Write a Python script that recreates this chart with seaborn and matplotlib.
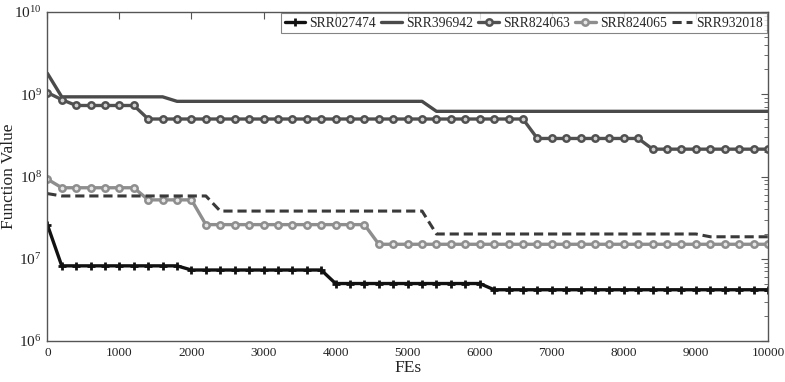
import numpy as np
import pandas as pd
import matplotlib
matplotlib.use("Agg")
import matplotlib.pyplot as plt
import seaborn as sns

# ---- data ----
fes = list(range(0, 10001, 200))
srr027474 = [2.6e7] + [8.2e6]*9 + [7.3e6]*10 + [5.0e6]*11 + [4.2e6]*20
srr396942 = [1.8e9] + [9.3e8]*8 + [8.2e8]*18 + [6.2e8]*24
srr824063 = [1.05e9, 8.6e8] + [7.3e8]*5 + [5.0e8]*27 + [2.9e8]*8 + [2.15e8]*9
srr824065 = [9.3e7] + [7.3e7]*6 + [5.2e7]*4 + [2.6e7]*12 + [1.5e7]*28
srr932018 = [6.2e7] + [5.8e7]*11 + [3.8e7]*15 + [2.0e7]*19 + [1.85e7]*5
names = ["SRR027474", "SRR396942", "SRR824063", "SRR824065", "SRR932018"]
series = [srr027474, srr396942, srr824063, srr824065, srr932018]

sns.set_theme(style="white")
plt.rcParams["font.family"] = ["Liberation Serif", "DejaVu Serif"]
plt.rcParams["mathtext.fontset"] = "stix"

fig = plt.figure(figsize=(7.85, 3.82), dpi=100)
ax = fig.add_axes([0.0603, 0.1073, 0.918, 0.8613])

styles = {
    "SRR027474": dict(color="#111111", marker="+", markersize=5.5, markeredgewidth=2.0,
                      markeredgecolor="#111111", linestyle="solid", linewidth=2.4),
    "SRR396942": dict(color="#4a4a4a", linestyle="solid", linewidth=2.4),
    "SRR824063": dict(color="#505050", marker="o", markersize=4.6, markeredgewidth=1.8,
                      markerfacecolor="#d0d0d0", markeredgecolor="#505050",
                      linestyle="solid", linewidth=2.4),
    "SRR824065": dict(color="#8e8e8e", marker="o", markersize=4.6, markeredgewidth=1.8,
                      markerfacecolor="#e6e6e6", markeredgecolor="#8e8e8e",
                      linestyle="solid", linewidth=2.4),
    "SRR932018": dict(color="#3a3a3a", linestyle=(0, (3.0, 1.6)), linewidth=2.2),
}

for n, vals in zip(names, series):
    df = pd.DataFrame({"FEs": fes, "val": vals})
    sns.lineplot(data=df, x="FEs", y="val", ax=ax, label=n, **styles[n])

ax.set_yscale("log")
ax.set_ylim(1e6, 1e10)
ax.set_xlim(0, 10000)
ax.set_xticks(range(0, 10001, 1000))
ax.set_yticks([1e6, 1e7, 1e8, 1e9, 1e10])
ax.yaxis.set_minor_locator(matplotlib.ticker.LogLocator(base=10, subs=np.arange(2, 10)))
ax.yaxis.set_minor_formatter(matplotlib.ticker.NullFormatter())

ax.set_xlabel("FEs", fontsize=12.5, color="#222222", labelpad=1)
ax.set_ylabel("Function Value", fontsize=12.5, color="#222222")
ax.yaxis.set_label_coords(-0.042, 0.5)
ax.tick_params(axis="both", which="major", direction="in", top=True, right=True,
               length=5, width=0.8, labelsize=9.5, colors="#555555", labelcolor="#222222", pad=4)
ax.tick_params(axis="y", which="major", labelsize=11)
ax.tick_params(axis="both", which="minor", direction="in", top=True, right=True,
               length=3, width=0.6, colors="#555555")
for sp in ax.spines.values():
    sp.set_color("#555555")
    sp.set_linewidth(1.0)

leg = ax.legend(loc="upper right", ncol=5, fontsize=9.8, frameon=True, fancybox=False,
                handlelength=1.5, handletextpad=0.3, columnspacing=0.4,
                borderaxespad=0.1, borderpad=0.25, numpoints=1)
leg.get_frame().set_edgecolor("#666666")
leg.get_frame().set_linewidth(0.8)

fig.savefig("out.png", dpi=100, facecolor="white")
